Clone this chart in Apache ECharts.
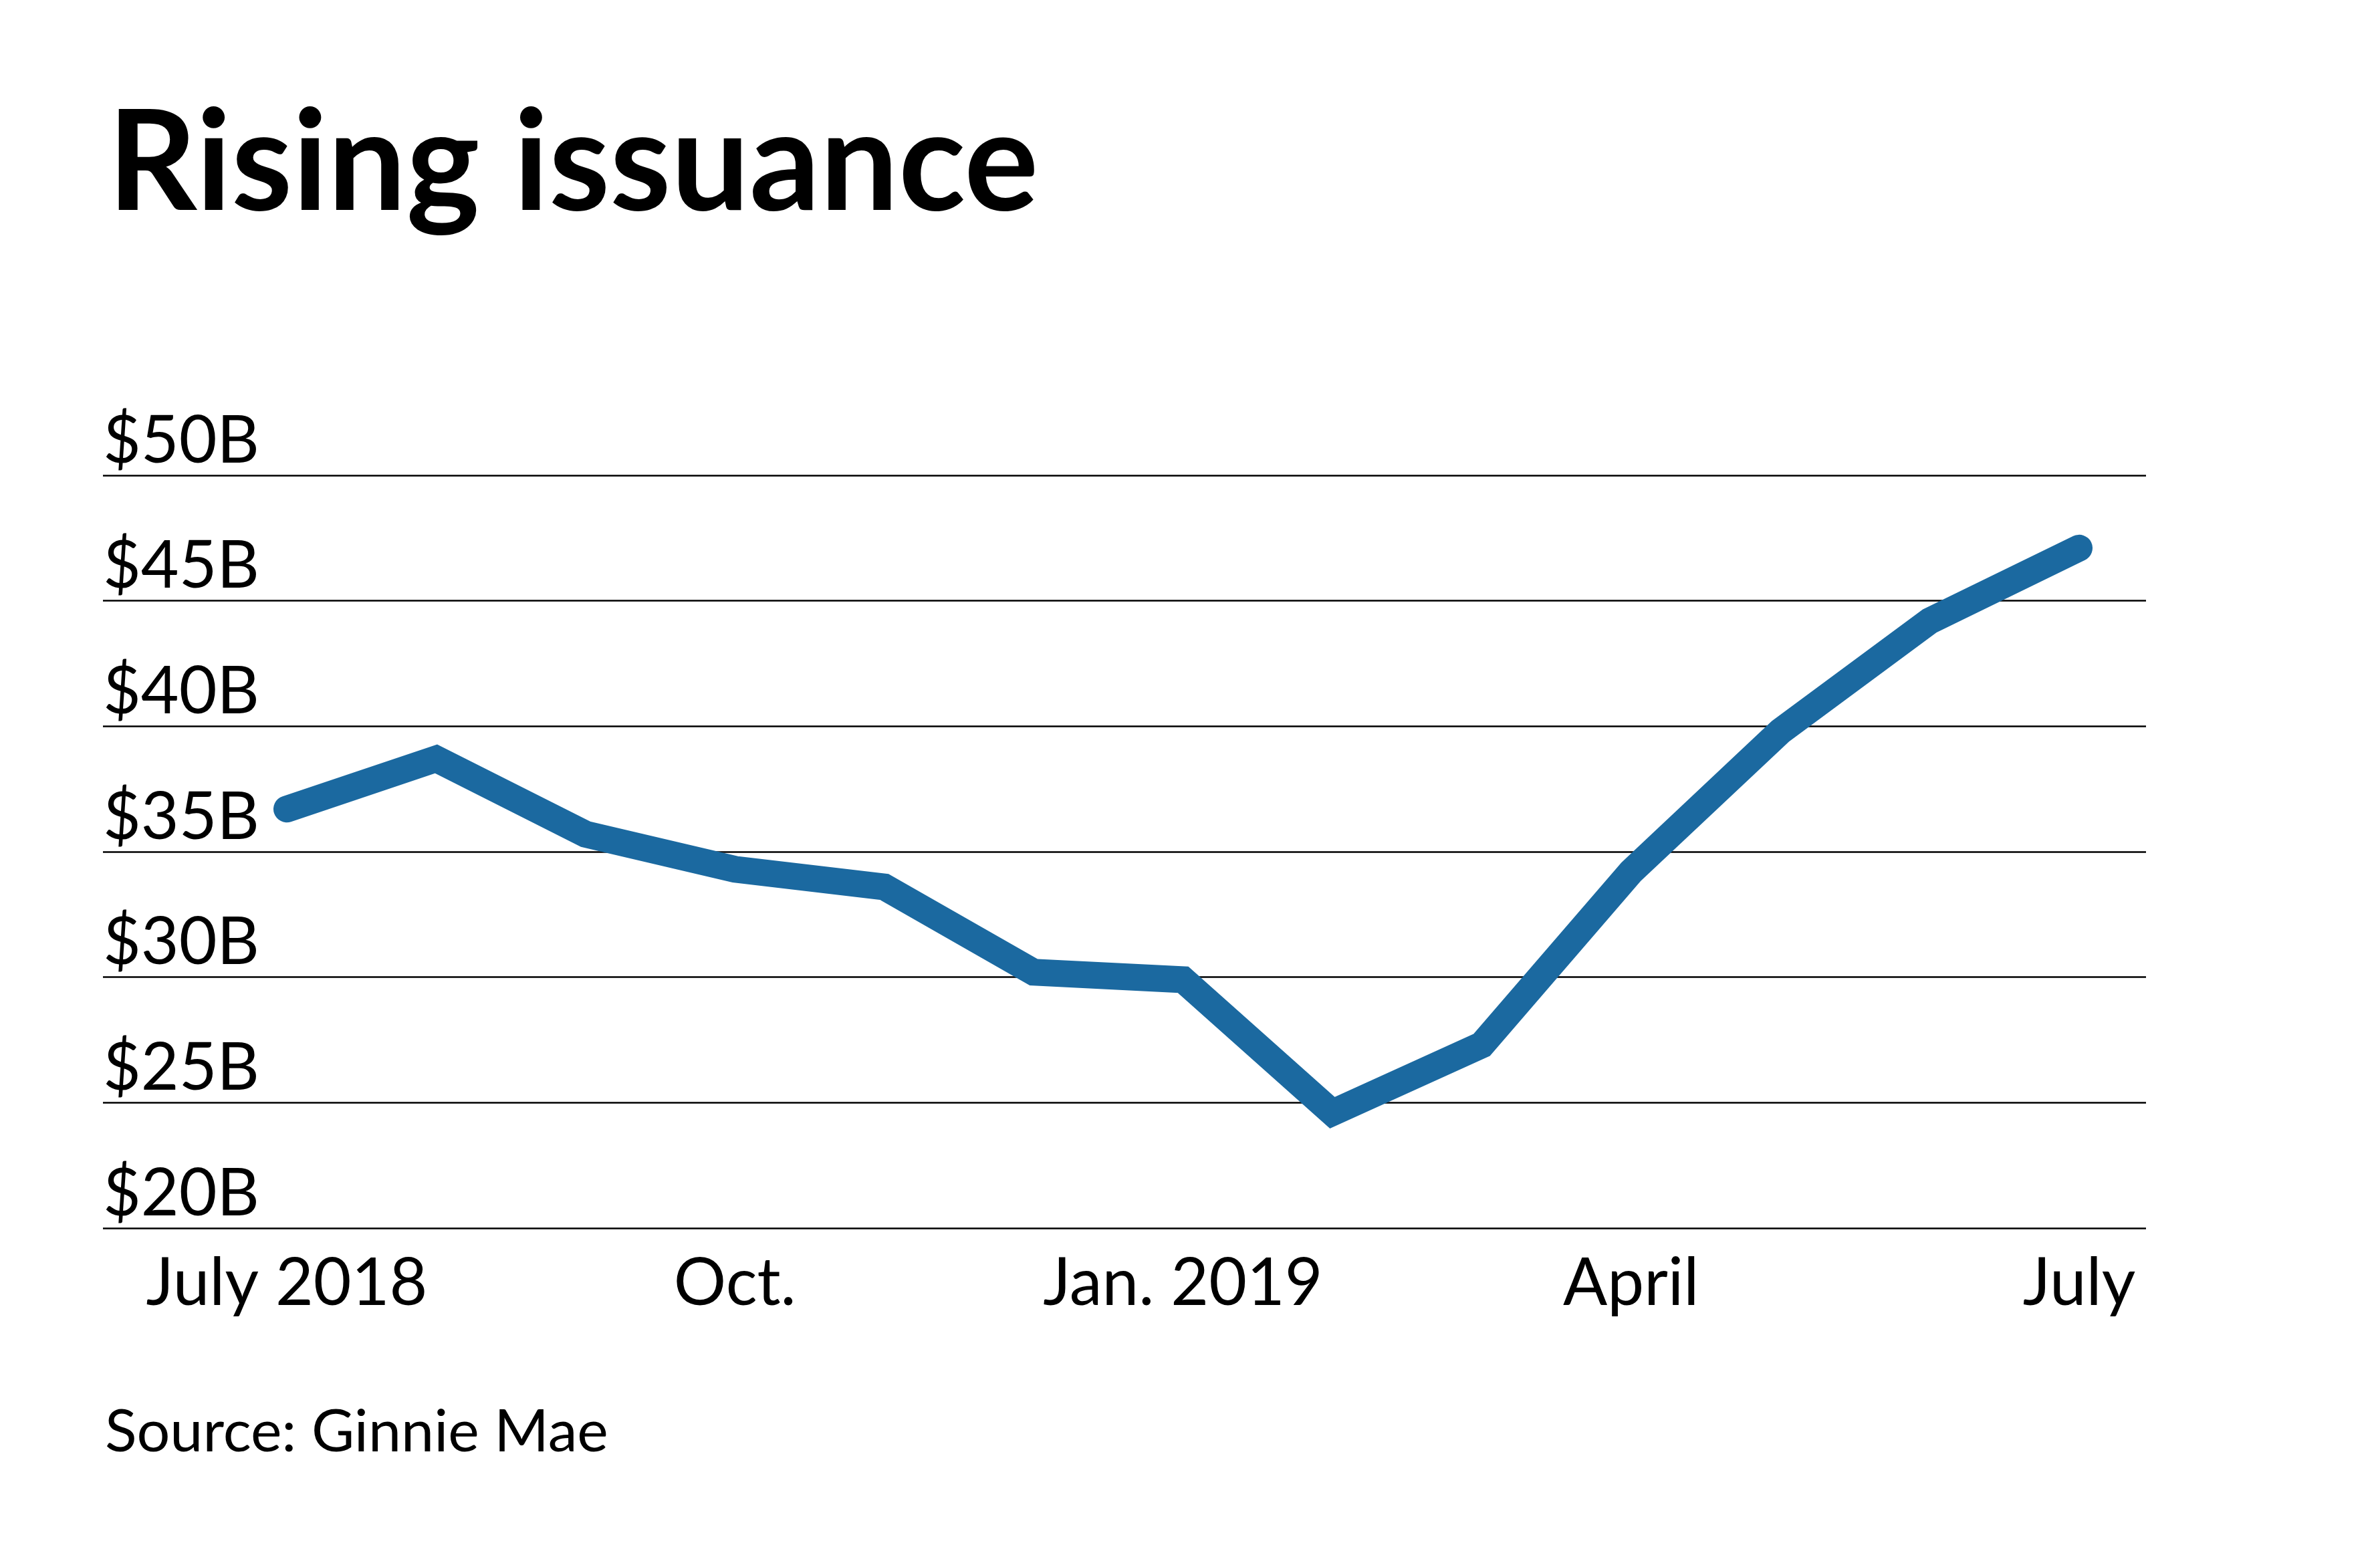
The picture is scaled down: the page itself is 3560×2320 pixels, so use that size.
<!DOCTYPE html>
<html>
<head>
<meta charset="utf-8">
<script src="https://cdn.jsdelivr.net/npm/echarts@6/dist/echarts.min.js"></script>
<style>
  html, body { margin: 0; padding: 0; background: #fff; }
  #chart { width: 3560px; height: 2320px; }
</style>
</head>
<body>
<div id="chart"></div>
<script>
// monthly Ginnie Mae issuance, $ billions
var months = ['July 2018', 'Aug.', 'Sept.', 'Oct.', 'Nov.', 'Dec.', 'Jan. 2019', 'Feb.', 'March', 'April', 'May', 'June', 'July']
var issuance = [36.7, 38.7, 35.7, 34.3, 33.6, 30.2, 29.9, 24.6, 27.3, 34.2, 39.8, 44.2, 47.1]
var yTicks = [20, 25, 30, 35, 40, 45, 50]

var font = 'Lato'
var chart = echarts.init(document.getElementById('chart'))

chart.setOption({
  backgroundColor: '#fff',
  animation: false,
  title: [
    {
      text: 'Rising issuance',
      left: 156,
      top: 138,
      textStyle: { fontFamily: font, fontWeight: 'bold', fontSize: 208, color: '#000' }
    },
    {
      text: 'Source: Ginnie Mae',
      left: 152,
      top: 2094,
      textStyle: { fontFamily: font, fontWeight: 'normal', fontSize: 88, color: '#000' }
    }
  ],
  grid: [
    // gridlines + y labels span the full width
    { left: 154, right: 350, top: 711, bottom: 483 },
    // the line itself sits inside, first/last month at the edges
    { left: 429, right: 450, top: 711, bottom: 483 }
  ],
  xAxis: [
    { gridIndex: 0, type: 'value', show: false },
    {
      gridIndex: 1,
      type: 'category',
      data: months,
      boundaryGap: false,
      axisLine: { show: false },
      axisTick: { show: false },
      axisLabel: {
        interval: 2,
        margin: 34,
        color: '#000',
        fontFamily: font,
        fontSize: 98
      }
    }
  ],
  yAxis: [
    {
      gridIndex: 0,
      type: 'value',
      min: yTicks[0],
      max: yTicks[yTicks.length - 1],
      interval: 5,
      axisLine: { show: false },
      axisTick: { show: false },
      splitLine: { lineStyle: { color: '#000', width: 2.5 } },
      axisLabel: {
        inside: true,
        margin: 0,
        align: 'left',
        verticalAlign: 'bottom',
        padding: [0, 0, 2, 0],
        color: '#000',
        fontFamily: font,
        fontSize: 98,
        formatter: function(v) { return '$' + v + 'B' }
      }
    },
    {
      gridIndex: 1,
      type: 'value',
      min: yTicks[0],
      max: yTicks[yTicks.length - 1],
      show: false,
      splitLine: { show: false }
    }
  ],
  series: [
    {
      type: 'line',
      xAxisIndex: 1,
      yAxisIndex: 1,
      data: issuance,
      showSymbol: false,
      lineStyle: {
        color: '#1b69a0',
        width: 40,
        cap: 'round',
        join: 'miter'
      }
    }
  ]
})
</script>
</body>
</html>
